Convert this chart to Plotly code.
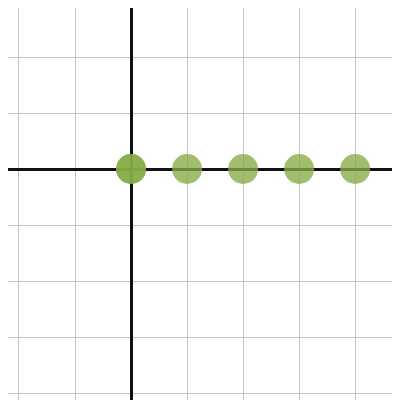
import plotly.graph_objects as go

x_vals = [0, 0, 1, 2, 3, 4]
y_vals = [0, 0, 0, 0, 0, 0]

fig = go.Figure()
fig.add_trace(go.Scatter(x=x_vals, y=y_vals, mode="markers",
                         marker=dict(size=30, color="rgba(135,172,70,0.78)", line=dict(width=0))))
fig.update_layout(width=392, height=392, margin=dict(l=0, r=0, t=0, b=0),
                  plot_bgcolor="white", paper_bgcolor="white", showlegend=False)
fig.update_xaxes(range=[-2.196, 4.8], dtick=1, tick0=0, showgrid=True, gridcolor="#c4c4c4",
                 zeroline=True, zerolinecolor="#111111", zerolinewidth=3, showticklabels=False, ticks="")
fig.update_yaxes(range=[-4.125, 2.875], dtick=1, tick0=0, showgrid=True, gridcolor="#c4c4c4",
                 zeroline=True, zerolinecolor="#111111", zerolinewidth=3, showticklabels=False, ticks="")
fig.write_html("out.html")
